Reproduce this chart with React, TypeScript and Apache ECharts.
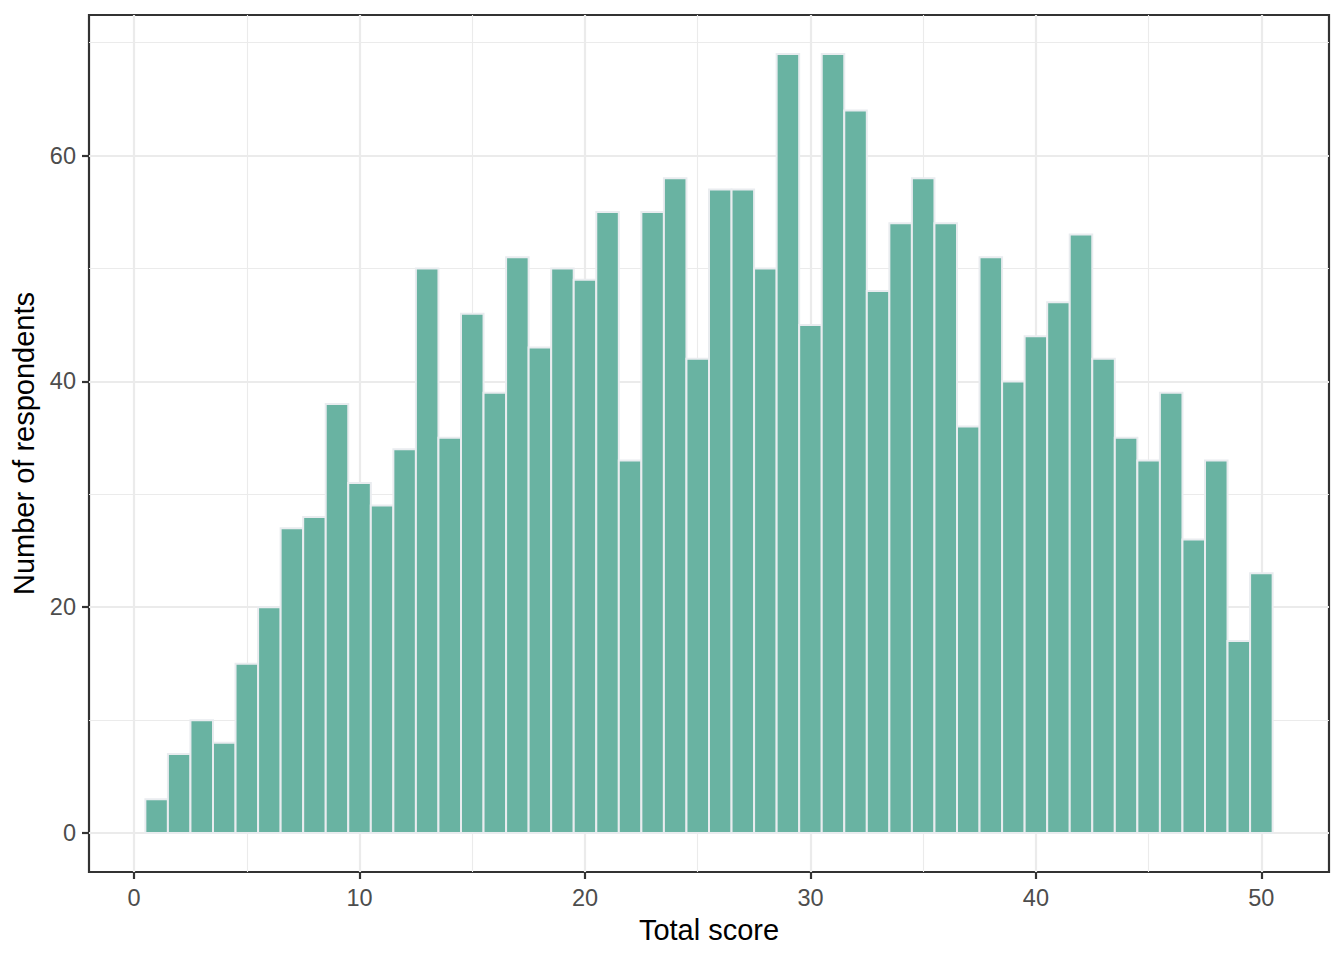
import React, { useEffect, useRef } from "react";
import * as echarts from "echarts";

const scores = [
  1, 2, 3, 4, 5, 6, 7, 8, 9, 10,
  11, 12, 13, 14, 15, 16, 17, 18, 19, 20,
  21, 22, 23, 24, 25, 26, 27, 28, 29, 30,
  31, 32, 33, 34, 35, 36, 37, 38, 39, 40,
  41, 42, 43, 44, 45, 46, 47, 48, 49, 50,
];
const counts = [
  3, 7, 10, 8, 15, 20, 27, 28, 38, 31,
  29, 34, 50, 35, 46, 39, 51, 43, 50, 49,
  55, 33, 55, 58, 42, 57, 57, 50, 69, 45,
  69, 64, 48, 54, 58, 54, 36, 51, 40, 44,
  47, 53, 42, 35, 33, 39, 26, 33, 17, 23,
];
const xTicks = [0, 10, 20, 30, 40, 50];
const xMinor = [5, 15, 25, 35, 45];
const yTicks = [0, 20, 40, 60];
const yMinor = [10, 30, 50, 70];

const FONT = "'Liberation Sans', Arial, sans-serif";

export default function App() {
  const ref = useRef<HTMLDivElement>(null);
  useEffect(() => {
    if (!ref.current) return;
    const chart = echarts.init(ref.current, null, { renderer: "svg" });
    const gridLine = (w: number) => ({ color: "#EBEBEB", width: w, type: "solid" });
    chart.setOption({
      animation: false,
      backgroundColor: "#ffffff",
      grid: {
        left: 89,
        right: 15,
        top: 15,
        bottom: 88,
        show: true,
        borderColor: "#333333",
        borderWidth: 2.2,
        backgroundColor: "transparent",
      },
      xAxis: {
        type: "value",
        min: -2,
        max: 53,
        name: "Total score",
        nameLocation: "middle",
        nameGap: 43,
        nameTextStyle: { fontFamily: FONT, fontSize: 29, color: "#000000" },
        axisLine: { show: false, onZero: false },
        axisTick: {
          show: true,
          customValues: xTicks,
          length: 7,
          lineStyle: { color: "#333333", width: 2.2 },
        },
        axisLabel: {
          customValues: xTicks,
          margin: 14,
          fontFamily: FONT,
          fontSize: 23.5,
          color: "#4D4D4D",
        },
        splitLine: { show: false },
      },
      yAxis: {
        type: "value",
        min: -3.45,
        max: 72.45,
        name: "Number of respondents",
        nameLocation: "middle",
        nameGap: 46,
        nameRotate: 90,
        nameTextStyle: { fontFamily: FONT, fontSize: 29, color: "#000000" },
        axisLine: { show: false, onZero: false },
        axisTick: {
          show: true,
          customValues: yTicks,
          length: 7,
          lineStyle: { color: "#333333", width: 2.2 },
        },
        axisLabel: {
          customValues: yTicks,
          margin: 13,
          fontFamily: FONT,
          fontSize: 23.5,
          color: "#4D4D4D",
        },
        splitLine: { show: false },
      },
      series: [
        {
          type: "scatter",
          data: [],
          z: 1,
          silent: true,
          markLine: {
            silent: true,
            z: 1,
            symbol: "none",
            label: { show: false },
            data: [
              ...xMinor.map((v) => ({ xAxis: v, lineStyle: gridLine(1.1) })),
              ...yMinor.map((v) => ({ yAxis: v, lineStyle: gridLine(1.1) })),
              ...xTicks.map((v) => ({ xAxis: v, lineStyle: gridLine(2.2) })),
              ...yTicks.map((v) => ({ yAxis: v, lineStyle: gridLine(2.2) })),
            ],
          },
        },
        {
          type: "custom",
          z: 10,
          data: scores.map((s, i) => [s, counts[i]]),
          encode: { x: 0, y: 1 },
          renderItem: (params: any, api: any) => {
            const x = api.value(0);
            const y = api.value(1);
            const p0 = api.coord([x - 0.5, y]);
            const p1 = api.coord([x + 0.5, 0]);
            return {
              type: "rect",
              shape: { x: p0[0], y: p0[1], width: p1[0] - p0[0], height: p1[1] - p0[1] },
              style: { fill: "#69b3a2", stroke: "#e9ecef", lineWidth: 2 },
            };
          },
        },
      ],
    });
    return () => chart.dispose();
  }, []);
  return (
    <div
      ref={ref}
      style={{ position: "absolute", left: 0, top: 0, width: 1344, height: 960 }}
    />
  );
}
